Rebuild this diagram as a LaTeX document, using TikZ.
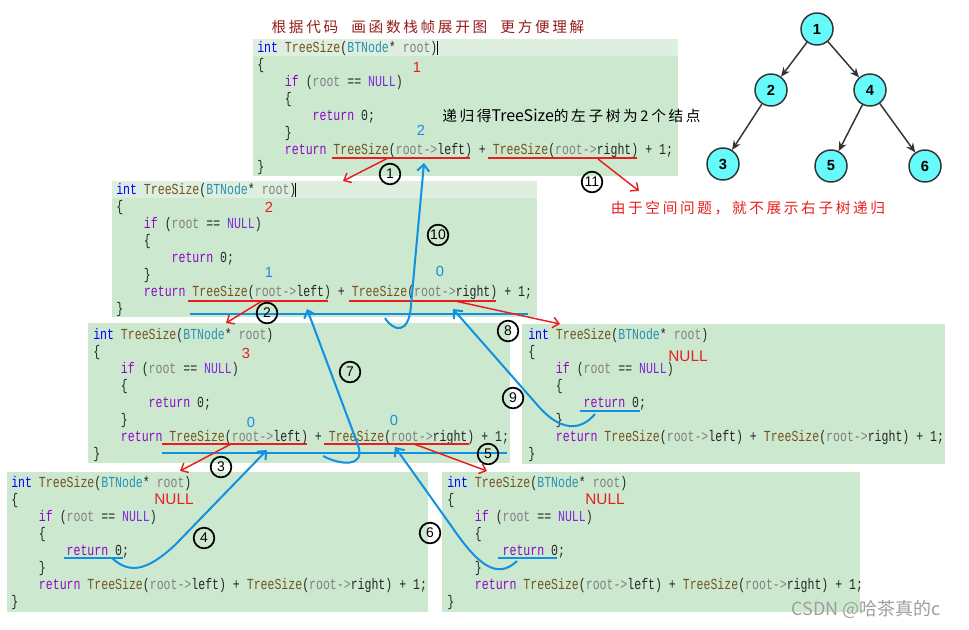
\documentclass[tikz,border=0pt]{standalone}
\usepackage{fontspec}
\setmainfont{Liberation Sans}
\newfontfamily\codefont[FakeStretch=0.753]{Liberation Mono}
\newfontfamily\cjkfont[LetterSpace=18]{Noto Sans CJK SC}
\newfontfamily\cjkplain{Noto Sans CJK SC}
\usetikzlibrary{arrows.meta,fit}

\definecolor{panelgreen}{RGB}{204,232,207}
\definecolor{headgreen}{RGB}{222,239,224}
\definecolor{callred}{RGB}{232,30,30}
\definecolor{retblue}{RGB}{16,146,224}
\definecolor{titlered}{RGB}{150,28,28}
\definecolor{nodecyan}{RGB}{102,250,250}
\definecolor{cint}{RGB}{0,0,255}
\definecolor{cfn}{RGB}{116,83,31}
\definecolor{cty}{RGB}{43,145,175}
\definecolor{cpm}{RGB}{128,128,128}
\definecolor{ckw}{RGB}{143,8,196}
\definecolor{cmac}{RGB}{128,40,220}

\newcommand\hlint[1]{\textcolor{cint}{#1}}
\newcommand\hlfn[1]{\textcolor{cfn}{#1}}
\newcommand\hlty[1]{\textcolor{cty}{#1}}
\newcommand\hlpm[1]{\textcolor{cpm}{#1}}
\newcommand\hlkw[1]{\textcolor{ckw}{#1}}
\newcommand\hlmac[1]{\textcolor{cmac}{#1}}

\begin{document}
\begin{tikzpicture}[x=0.75pt,y=-0.75pt,>={Stealth[length=7pt,width=6pt]}]

        % Styles
        \tikzset{
          panel/.style={fill=panelgreen,inner sep=0pt},
          code/.style={anchor=base west,inner sep=0pt,yshift=-3.6pt,text=black!85,
                       font=\codefont\fontsize{11.5}{12}\selectfont},
          treenode/.style={circle,draw=black!80,line width=1.1pt,fill=nodecyan,
                       minimum size=24pt,inner sep=0pt,
                       font=\bfseries\fontsize{11}{12}\selectfont},
          treeedge/.style={->,black!80,line width=1.1pt},
          stepno/.style={circle,draw=black,line width=1.3pt,inner sep=0pt,
                       minimum size=15.5pt,font=\fontsize{10.5}{12}\selectfont},
          numred/.style={text=callred,inner sep=0pt,font=\fontsize{11}{12}\selectfont},
          numblue/.style={text=retblue,inner sep=0pt,font=\fontsize{11}{12}\selectfont},
          nullred/.style={text=callred,inner sep=0pt,font=\fontsize{11.5}{12}\selectfont},
          callline/.style={callred,line width=1.5pt},
          callarrow/.style={callred,line width=1.1pt,
                       -{Straight Barb[length=4.5pt,width=8pt]}},
          retline/.style={retblue,line width=1.5pt},
          retarrow/.style={retblue,line width=1.5pt,
                       -{Straight Barb[length=5pt,width=9pt]}}
        }

        \useasboundingbox (0,0) rectangle (969,629);

        % char width and line step of the code (px)
        \def\cw{6.93}
        \def\ls{16.9}

        % one code panel: name, left, top, right, bottom, text x, first line y, header colour
        \def\codepanel#1#2#3#4#5#6#7#8{%
          \coordinate (#1-nw) at (#2,#3);
          \coordinate (#1-se) at (#4,#5);
          \node[panel,fit=(#1-nw)(#1-se)] (#1) {};
          \fill[#8] (#2,#3) rectangle (#4,{#3+17});
          \node[code] (#1-l1) at (#6,#7)
            {\hlint{int} \hlfn{TreeSize}(\hlty{BTNode}* \hlpm{root})};
          \node[code] (#1-l2) at (#6,{#7+\ls}) {\{};
          \node[code] (#1-l3) at ({#6+4*\cw},{#7+2*\ls})
            {\hlkw{if} (\hlpm{root} == \hlmac{NULL})};
          \node[code] (#1-l4) at ({#6+4*\cw},{#7+3*\ls}) {\{};
          \node[code] (#1-l5) at ({#6+8*\cw},{#7+4*\ls}) {\hlkw{return} 0;};
          \node[code] (#1-l6) at ({#6+4*\cw},{#7+5*\ls}) {\}};
          \node[code] (#1-l7) at ({#6+4*\cw},{#7+6*\ls})
            {\hlkw{return} \hlfn{TreeSize}(\hlpm{root->}left) + \hlfn{TreeSize}(\hlpm{root->}right) + 1;};
          \node[code] (#1-l8) at (#6,{#7+7*\ls}) {\}};
        }

        %-------------------------------
        % Code panels (stack frames)
        %-------------------------------
        \codepanel{A}{253}{39}{678}{176}{257}{48}{headgreen}
        \codepanel{B}{112}{181}{537}{317}{116}{190}{headgreen}
        \codepanel{C}{88}{323}{510}{463}{93}{335}{panelgreen}
        \codepanel{D}{522}{324}{945}{464}{528}{335}{panelgreen}
        \codepanel{E}{7}{472}{428}{612}{11}{483}{panelgreen}
        \codepanel{F}{442}{472}{860}{612}{447}{483}{panelgreen}

        % text cursors
        \draw[black,line width=0.6pt] (437,41) -- (437,55);
        \draw[black,line width=0.6pt] (295,183) -- (295,197);

        %-------------------------------
        % Title and notes
        %-------------------------------
        \node[text=titlered,font=\cjkfont\fontsize{11}{13}\selectfont] (title) at (428,27)
          {根据代码\hspace{0.9em}画函数栈帧展开图\hspace{0.9em}更方便理解};
        \node[anchor=west,inner sep=0pt,font=\cjkfont\fontsize{11}{13}\selectfont] (leftnote) at (442,116)
          {递归得{\cjkplain\fontsize{12}{13}\selectfont TreeSize}的左子树为2个结点};
        \node[text=callred,font=\cjkfont\fontsize{11}{13}\selectfont] (rightnote) at (748,208)
          {由于空间问题，就不展示右子树递归};
        \node[text=black!38,font=\cjkplain\fontsize{13.5}{15}\selectfont] (mark) at (866,609)
          {CSDN @哈茶真的c};

        %-------------------------------
        % Binary tree
        %-------------------------------
        \node[treenode] (n1) at (817,29) {1};
        \node[treenode] (n2) at (771,90) {2};
        \node[treenode] (n4) at (870,90) {4};
        \node[treenode] (n3) at (723,164) {3};
        \node[treenode] (n5) at (831,166) {5};
        \node[treenode] (n6) at (925,166) {6};

        \draw[treeedge] (n1) -- (n2);
        \draw[treeedge] (n1) -- (n4);
        \draw[treeedge] (n2) -- (n3);
        \draw[treeedge] (n4) -- (n5);
        \draw[treeedge] (n4) -- (n6);

        %-------------------------------
        % Values written into the frames
        %-------------------------------
        \node[numred] (vA) at (417,67) {1};
        \node[numred] (vB) at (269,207) {2};
        \node[numred] (vC) at (246,353) {3};
        \node[numblue] (rA) at (421,130) {2};
        \node[numblue] (rBL) at (269,272) {1};
        \node[numblue] (rBR) at (440,271) {0};
        \node[numblue] (rCL) at (251,422) {0};
        \node[numblue] (rCR) at (394,420) {0};
        \node[nullred] (nD) at (688,356) {NULL};
        \node[nullred] (nE) at (174,499) {NULL};
        \node[nullred] (nF) at (605,499) {NULL};

        %-------------------------------
        % Underlines of the calls and the returns
        %-------------------------------
        \draw[callline] (332,158) -- (470,158);
        \draw[callline] (488,158) -- (637,158);
        \draw[callline] (188,301) -- (328,301);
        \draw[callline] (349,301) -- (496,301);
        \draw[callline] (162,444) -- (307,444);
        \draw[callline] (324,444) -- (469,444);

        \draw[retline] (190,314) -- (528,314);
        \draw[retline] (162,453) -- (507,453);
        \draw[retline] (580,411) -- (640,411);
        \draw[retline] (64,558) -- (123,558);
        \draw[retline] (498,558) -- (557,558);

        %-------------------------------
        % Calls (red)
        %-------------------------------
        \coordinate (A-callL) at (388,158);
        \coordinate (A-callR) at (598,159);
        \coordinate (B-callL) at (262,301);
        \coordinate (B-callR) at (455,301);
        \coordinate (C-callL) at (231,444);
        \coordinate (C-callR) at (414,444);
        \coordinate (B-in) at (343,181);
        \coordinate (R-out) at (639,191);
        \coordinate (C-in) at (226,323);
        \coordinate (D-in) at (560,324);
        \coordinate (E-in) at (180,471);
        \coordinate (F-in) at (487,471);

        \draw[callarrow] (A-callL) -- (B-in);
        \draw[callarrow] (A-callR) -- (R-out);
        \draw[callarrow] (B-callL) -- (C-in);
        \draw[callarrow] (B-callR) -- (D-in);
        \draw[callarrow] (C-callL) -- (E-in);
        \draw[callarrow] (C-callR) -- (F-in);

        %-------------------------------
        % Returns (blue)
        %-------------------------------
        \coordinate (E-ret) at (112,558);
        \coordinate (F-ret) at (517,561);
        \coordinate (C-up) at (323,456);
        \coordinate (D-ret) at (595,414);
        \coordinate (B-up) at (385,318);
        \coordinate (C-retL) at (267,450);
        \coordinate (C-retR) at (395,447);
        \coordinate (B-retL) at (307,309);
        \coordinate (B-retR) at (453,309);
        \coordinate (A-retL) at (424,163);

        \draw[retarrow] (E-ret) .. controls (130,575) and (148,570) .. (175,545) -- (C-retL);
        \draw[retarrow] (F-ret) .. controls (497,580) and (478,565) .. (452,527) -- (C-retR);
        \draw[retarrow] (C-up) .. controls (340,465) and (366,468) .. (358,445) -- (B-retL);
        \draw[retarrow] (D-ret) .. controls (580,432) and (560,430) .. (540,408) -- (B-retR);
        \draw[retarrow] (B-up) .. controls (393,331) and (409,336) .. (411,305) -- (A-retL);

        %-------------------------------
        % Step numbers
        %-------------------------------
        \node[stepno] (s1) at (390,174) {1};
        \node[stepno] (s2) at (267,313) {2};
        \node[stepno] (s3) at (221,467) {3};
        \node[stepno] (s4) at (204,538) {4};
        \node[stepno] (s5) at (488,454) {5};
        \node[stepno] (s6) at (430,533) {6};
        \node[stepno] (s7) at (350,372) {7};
        \node[stepno] (s8) at (508,331) {8};
        \node[stepno] (s9) at (513,398) {9};
        \node[stepno] (s10) at (438,235) {10};
        \node[stepno] (s11) at (592,182) {11};

    \end{tikzpicture}
\end{document}
